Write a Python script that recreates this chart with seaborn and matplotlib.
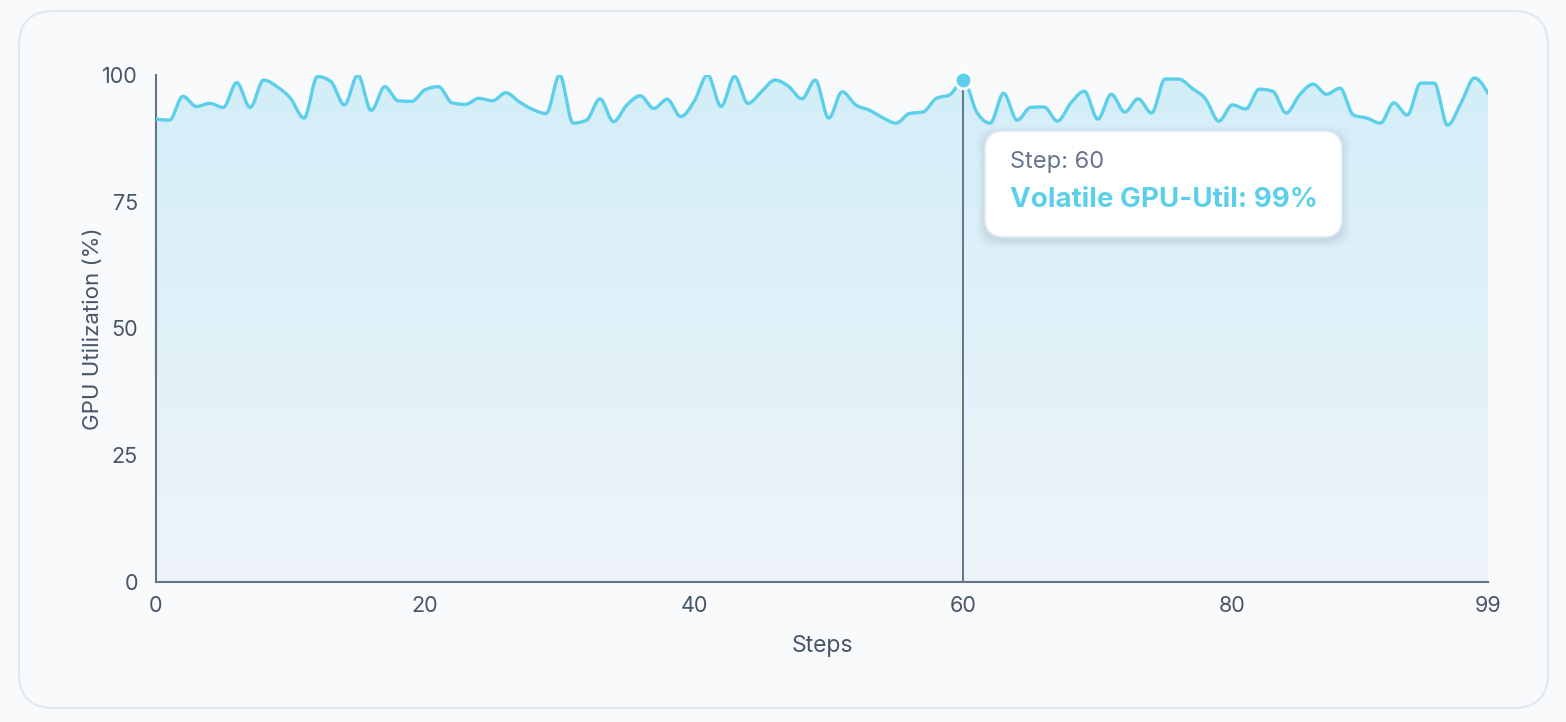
import numpy as np
import pandas as pd
import matplotlib
matplotlib.use('Agg')
import matplotlib.pyplot as plt
import seaborn as sns
from matplotlib.patches import FancyBboxPatch
from matplotlib.colors import LinearSegmentedColormap

steps = list(range(100))
gpu_util = [
    91.3, 91.1, 95.8, 93.8, 94.4, 93.6, 98.5, 93.6, 99.0, 97.7,
    95.4, 91.5, 99.7, 98.7, 94.1, 100.0, 93.0, 97.7, 94.9, 94.8,
    97.1, 97.7, 94.5, 94.2, 95.4, 94.9, 96.5, 94.7, 93.2, 92.4,
    100.0, 90.5, 91.1, 95.3, 90.8, 94.1, 95.9, 93.4, 95.2, 91.8,
    94.8, 100.0, 93.8, 99.7, 94.4, 96.7, 99.0, 97.8, 95.3, 99.0,
    91.5, 96.7, 94.1, 93.1, 91.6, 90.5, 92.4, 92.7, 95.4, 96.1,
    99.0, 92.7, 90.5, 96.4, 91.1, 93.6, 93.7, 90.9, 94.5, 96.8,
    91.3, 96.2, 92.7, 95.3, 92.5, 99.2, 99.2, 97.4, 95.3, 90.9,
    94.1, 93.3, 97.2, 96.8, 92.5, 96.1, 98.2, 96.2, 97.4, 92.1,
    91.5, 90.5, 94.5, 92.1, 98.4, 98.4, 90.1, 94.5, 99.4, 96.4,
]
x_ticks = [0, 20, 40, 60, 80, 99]
y_ticks = [0, 25, 50, 75, 100]
hover_step = 60

LINE = '#5ccfea'
AXIS = '#64748b'
TEXT = '#475569'
BG = '#f8fafc'


def monotone_curve(x, y, n=16):
    # d3 curveMonotoneX style smoothing between the data points
    x = np.asarray(x, float)
    y = np.asarray(y, float)
    h = np.diff(x)
    d = np.diff(y) / h
    m = np.zeros_like(y)
    for k in range(1, len(y) - 1):
        s0, s1 = d[k - 1], d[k]
        p = (s0 * h[k] + s1 * h[k - 1]) / (h[k - 1] + h[k])
        m[k] = (np.sign(s0) + np.sign(s1)) * min(abs(s0), abs(s1), 0.5 * abs(p))
    m[0] = (3 * d[0] - m[1]) / 2
    m[-1] = (3 * d[-1] - m[-2]) / 2
    xs, ys = [], []
    for k in range(len(x) - 1):
        t = np.linspace(0, 1, n, endpoint=False)
        h00 = 2 * t**3 - 3 * t**2 + 1
        h10 = t**3 - 2 * t**2 + t
        h01 = -2 * t**3 + 3 * t**2
        h11 = t**3 - t**2
        xs.append(x[k] + t * h[k])
        ys.append(h00 * y[k] + h10 * h[k] * m[k] + h01 * y[k + 1] + h11 * h[k] * m[k + 1])
    xs.append([x[-1]])
    ys.append([y[-1]])
    return np.concatenate(xs), np.concatenate(ys)


sns.set_theme(style='white')
plt.rcParams['font.family'] = ['Inter', 'DejaVu Sans']

fig = plt.figure(figsize=(15.66, 7.22), dpi=100)
fig.patch.set_facecolor(BG)
card = FancyBboxPatch((19 / 1566, 14 / 722), 1529 / 1566, 697 / 722,
                      boxstyle='round,pad=0,rounding_size=0.022',
                      transform=fig.transFigure, facecolor=BG,
                      edgecolor='#e2e8f0', linewidth=1.5, mutation_aspect=1566 / 722,
                      zorder=-10)
fig.patches.append(card)

ax = fig.add_axes([156 / 1566, 140 / 722, 1332 / 1566, 507 / 722])
ax.set_facecolor('none')

sx, sy = monotone_curve(steps, gpu_util)
df = pd.DataFrame({'step': sx, 'util': sy})

# gradient area under the curve
fill = ax.fill_between(sx, 0, sy, facecolor='none', edgecolor='none')
cmap = LinearSegmentedColormap.from_list('g', ['#eef4f9', '#d3eef8'])
grad = np.linspace(0, 1, 256).reshape(-1, 1)
im = ax.imshow(grad, extent=[0, 99, 0, 100], origin='lower', aspect='auto',
               cmap=cmap, zorder=1)
im.set_clip_path(fill.get_paths()[0], transform=ax.transData)

sns.lineplot(data=df, x='step', y='util', color=LINE, linewidth=2.4, ax=ax, zorder=3)

hv = gpu_util[hover_step]
ax.plot([hover_step, hover_step], [0, hv], color=AXIS, linewidth=1.4, zorder=2)
ax.plot([hover_step], [hv], marker='o', markersize=12, color=LINE,
        markeredgecolor='white', markeredgewidth=2, zorder=5, clip_on=False)

ax.set_xlim(0, 99)
ax.set_ylim(0, 100)
ax.set_xticks(x_ticks)
ax.set_yticks(y_ticks)
ax.tick_params(axis='both', length=0, labelsize=15.5, labelcolor=TEXT)
ax.tick_params(axis='x', pad=10)
ax.tick_params(axis='y', pad=13)
sns.despine(ax=ax)
for s in ['left', 'bottom']:
    ax.spines[s].set_color(AXIS)
    ax.spines[s].set_linewidth(1.5)
ax.set_xlabel('Steps', fontsize=16.5, color=TEXT)
ax.set_ylabel('GPU Utilization (%)', fontsize=16, color=TEXT)
ax.xaxis.set_label_coords(0.5, -0.104)
ax.yaxis.set_label_coords(-0.0395, 0.5)

# tooltip box with a soft shadow
for off, a in [(8, 0.025), (6, 0.035), (4, 0.045), (2, 0.06)]:
    sh = FancyBboxPatch(((985 - off) / 1566, (722 - 237 - off - 3) / 722),
                        (357 + 2 * off) / 1566, (106 + 2 * off) / 722,
                        boxstyle='round,pad=0,rounding_size=0.012',
                        transform=fig.transFigure, facecolor='#64748b', alpha=a,
                        edgecolor='none', mutation_aspect=1566 / 722, zorder=9)
    fig.patches.append(sh)
tip = FancyBboxPatch((985 / 1566, (722 - 237) / 722), 357 / 1566, 106 / 722,
                     boxstyle='round,pad=0,rounding_size=0.012',
                     transform=fig.transFigure, facecolor='white',
                     edgecolor='#e2e8f0', linewidth=1.2, mutation_aspect=1566 / 722, zorder=10)
fig.patches.append(tip)
fig.text(1010 / 1566, 1 - 162 / 722, f'Step: {hover_step}', fontsize=17, color=AXIS,
         va='center', ha='left', zorder=11)
fig.text(1010 / 1566, 1 - 200 / 722, f'Volatile GPU-Util: {hv:.0f}%', fontsize=20,
         fontweight='bold', color=LINE, va='center', ha='left', zorder=11)

fig.savefig('out.png', dpi=100, facecolor=BG)
